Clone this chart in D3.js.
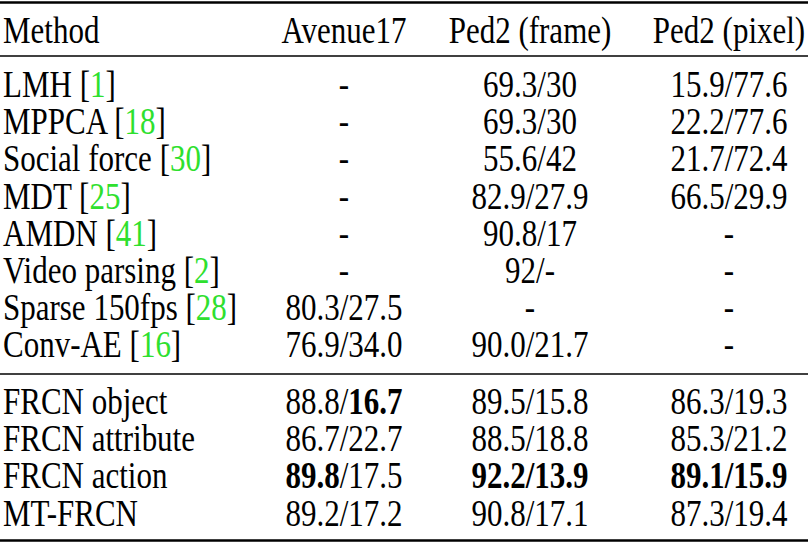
<!DOCTYPE html>
<html><head><meta charset="utf-8">
<script src="https://cdn.jsdelivr.net/npm/d3@7"></script>
<style>body{margin:0;background:#fff}</style></head>
<body><svg id="c" width="808" height="543"></svg>
<script>
// header and rows; cells use "**x**" for bold and [n] for green refs
var columns = ["Method", "Avenue17", "Ped2 (frame)", "Ped2 (pixel)"];
var baselineRows = [
  ["LMH [1]", "-", "69.3/30", "15.9/77.6"],
  ["MPPCA [18]", "-", "69.3/30", "22.2/77.6"],
  ["Social force [30]", "-", "55.6/42", "21.7/72.4"],
  ["MDT [25]", "-", "82.9/27.9", "66.5/29.9"],
  ["AMDN [41]", "-", "90.8/17", "-"],
  ["Video parsing [2]", "-", "92/-", "-"],
  ["Sparse 150fps [28]", "80.3/27.5", "-", "-"],
  ["Conv-AE [16]", "76.9/34.0", "90.0/21.7", "-"]
];
var ourRows = [
  ["FRCN object", "88.8/**16.7**", "89.5/15.8", "86.3/19.3"],
  ["FRCN attribute", "86.7/22.7", "88.5/18.8", "85.3/21.2"],
  ["FRCN action", "**89.8**/17.5", "**92.2/13.9**", "**89.1/15.9**"],
  ["MT-FRCN", "89.2/17.2", "90.8/17.1", "87.3/19.4"]
];

var svg = d3.select("#c");
var font = "'Liberation Serif', 'Times New Roman', serif";
var colX = [3, 344, 530, 729];
var rowH = 37.2;

function pieces(s) {
  var out = [];
  s.split(/(\*\*[^*]+\*\*|\[\d+\])/).forEach(function (p) {
    if (!p) return;
    if (p.startsWith("**")) out.push({t: p.slice(2, -2), b: true});
    else if (p.startsWith("[")) {
      out.push({t: "["}); out.push({t: p.slice(1, -1), g: true}); out.push({t: "]"});
    } else out.push({t: p});
  });
  return out;
}

function drawRow(cells, y) {
  cells.forEach(function (c, i) {
    var t = svg.append("text")
      .attr("transform", "translate(" + colX[i] + "," + y + ") scale(1,1.2)")
      .attr("dy", "0.35em")
      .attr("text-anchor", i === 0 ? "start" : "middle")
      .attr("font-family", font).attr("font-size", 31)
      .attr("fill", "#000");
    t.selectAll("tspan").data(pieces(c)).join("tspan")
      .text(function (d) { return d.t; })
      .attr("font-weight", function (d) { return d.b ? "bold" : null; })
      .attr("fill", function (d) { return d.g ? "#2ee02e" : null; });
  });
}

function rule(y, w) {
  svg.append("line").attr("x1", 0).attr("x2", 808).attr("y1", y).attr("y2", y)
    .attr("stroke", "#000").attr("stroke-width", w);
}

rule(2.5, 2.5);
drawRow(columns, 30);
rule(56, 1.5);
baselineRows.forEach(function (r, i) { drawRow(r, 84 + i * rowH); });
rule(374, 1.5);
ourRows.forEach(function (r, i) { drawRow(r, 401 + i * rowH); });
rule(540.5, 2.5);
</script></body></html>
